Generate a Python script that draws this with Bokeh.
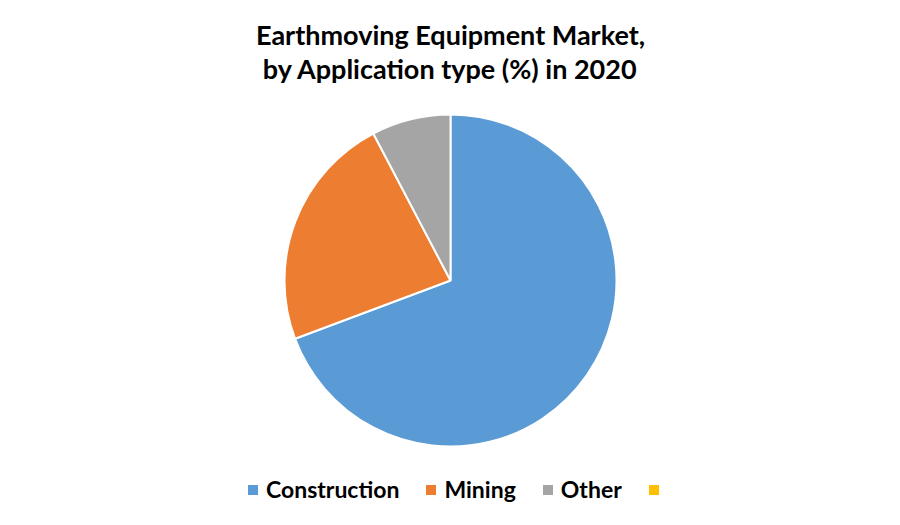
import numpy as np
from bokeh.plotting import figure
from bokeh.models import Legend, LegendItem, ColumnDataSource, Range1d
from bokeh.core.properties import value
from bokeh.embed import file_html
from bokeh.resources import INLINE

title_lines = ["Earthmoving Equipment Market,", "by Application type (%) in 2020"]
categories = ["Construction", "Mining", "Other", ""]
shares = [69.3, 23.0, 7.7, 0.0]
colors = ["#5B9BD5", "#ED7D31", "#A5A5A5", "#FFC000"]

W, H = 884, 509
p = figure(width=W, height=H, output_backend="svg", toolbar_location=None,
           x_range=Range1d(0, W), y_range=Range1d(0, H), min_border=0)
p.axis.visible = False
p.grid.visible = False
p.outline_line_color = None
p.background_fill_color = "white"
p.border_fill_color = "white"

vals = np.array(shares, dtype=float)
frac = vals / vals.sum()
cum = np.concatenate([[0], np.cumsum(frac)])
start = np.pi / 2 - 2 * np.pi * cum[:-1]
end = np.pi / 2 - 2 * np.pi * cum[1:]

cx, cy, r = 450, 229, 166
items = []
for i, cat in enumerate(categories):
    has = vals[i] > 0
    src = ColumnDataSource(dict(x=[cx], y=[cy], s=[start[i]], e=[end[i]]))
    rend = p.wedge(x="x", y="y", radius=r if has else 0, start_angle="s",
                   end_angle="e", direction="clock", source=src,
                   fill_color=colors[i], line_color="white", line_width=2)
    items.append(LegendItem(label=cat if cat else " ", renderers=[rend]))

for k, line in enumerate(title_lines):
    p.text(x=[W / 2 + 8], y=[H - 34 - k * 34], text=[line], text_align="center",
           text_baseline="middle", text_font=value("Lato"), text_font_style="bold",
           text_font_size="27px", text_color="#000000")

legend = Legend(items=items, orientation="horizontal", location=(245, 6),
                label_text_font="Lato", label_text_font_style="bold",
                label_text_font_size="23px", label_text_color="#000000",
                glyph_width=15, glyph_height=15, label_standoff=6, spacing=24,
                padding=0, border_line_color=None, background_fill_alpha=0,
                label_height=20)
p.add_layout(legend, "center")

open("out.html", "w").write(file_html(p, INLINE))
